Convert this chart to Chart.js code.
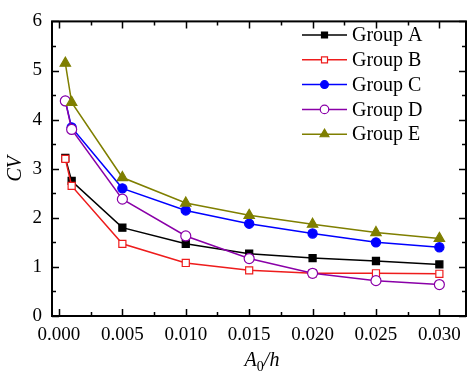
<!DOCTYPE html>
<html>
<head>
<meta charset="utf-8">
<script src="https://cdn.jsdelivr.net/npm/chart.js@4"></script>
<style>
  html, body { margin: 0; padding: 0; background: #fff; }
  #wrap { width: 474px; height: 376px; }
</style>
</head>
<body>
<div id="wrap"><canvas id="cvChart" width="474" height="376"></canvas></div>
<script>
// x positions (A0/h) and CV values
const ratios = [0.0005, 0.001, 0.005, 0.010, 0.015, 0.020, 0.025, 0.030];
const groupA = [3.22, 2.75, 1.80, 1.47, 1.27, 1.18, 1.12, 1.05];
const groupB = [3.20, 2.65, 1.47, 1.08, 0.93, 0.87, 0.87, 0.86];
const groupC = [4.38, 3.84, 2.60, 2.15, 1.88, 1.68, 1.50, 1.40];
const groupD = [4.38, 3.80, 2.38, 1.63, 1.17, 0.87, 0.72, 0.64];
const groupE = [5.15, 4.35, 2.82, 2.30, 2.05, 1.87, 1.70, 1.58];
const groupNames = ["Group A", "Group B", "Group C", "Group D", "Group E"];
const xTicks = [0.000, 0.005, 0.010, 0.015, 0.020, 0.025, 0.030];
const yTicks = [0, 1, 2, 3, 4, 5, 6];

const serif = "'Liberation Serif', 'DejaVu Serif', serif";

function pts(vals) {
  return vals.map((v, i) => ({ x: ratios[i], y: v }));
}

function makeSet(label, vals, color, style, filled, radius, order) {
  return {
    label: label,
    data: pts(vals),
    order: order, // later groups drawn on top
    borderColor: color,
    backgroundColor: filled ? color : "#ffffff",
    pointBorderColor: color,
    pointBackgroundColor: filled ? color : "#ffffff",
    pointStyle: style,
    pointRadius: radius,
    pointBorderWidth: 1.2,
    borderWidth: 1.5,
    tension: 0,
    fill: false
  };
}

// inside ticks on all four sides, legend with line + marker, axis titles
const frame = {
  id: "frame",
  afterDraw(chart) {
    const ctx = chart.ctx;
    const a = chart.chartArea;
    const xs = chart.scales.x, ys = chart.scales.y;
    ctx.save();
    ctx.strokeStyle = "#000";
    ctx.lineWidth = 2;
    ctx.strokeRect(a.left, a.top, a.right - a.left, a.bottom - a.top);

    ctx.lineWidth = 1.5;
    ctx.beginPath();
    for (let v = 0; v <= 0.0301; v += 0.0025) {
      const major = Math.abs(v / 0.005 - Math.round(v / 0.005)) < 1e-6;
      const len = major ? 7 : 4;
      const px = Math.round(xs.getPixelForValue(v)) + 0.5;
      ctx.moveTo(px, a.bottom); ctx.lineTo(px, a.bottom - len);
      ctx.moveTo(px, a.top); ctx.lineTo(px, a.top + len);
    }
    for (let v = 0; v <= 6.01; v += 0.5) {
      const major = Math.abs(v - Math.round(v)) < 1e-6;
      const len = major ? 7 : 4;
      const py = Math.round(ys.getPixelForValue(v)) + 0.5;
      ctx.moveTo(a.left, py); ctx.lineTo(a.left + len, py);
      ctx.moveTo(a.right, py); ctx.lineTo(a.right - len, py);
    }
    ctx.stroke();

    // legend
    ctx.font = "20px " + serif;
    ctx.textBaseline = "middle";
    chart.data.datasets.forEach((ds, i) => {
      const y = 35 + i * 24.8;
      const x0 = 302, x1 = 347;
      ctx.strokeStyle = ds.borderColor;
      ctx.lineWidth = ds.borderWidth;
      ctx.beginPath();
      ctx.moveTo(x0, y); ctx.lineTo(x1, y);
      ctx.stroke();
      ctx.fillStyle = ds.pointBackgroundColor;
      ctx.strokeStyle = ds.pointBorderColor;
      ctx.lineWidth = 1.2;
      Chart.helpers.drawPoint(ctx, {
        pointStyle: ds.pointStyle,
        radius: ds.pointRadius * 0.85,
        rotation: 0,
        borderWidth: 1.2
      }, (x0 + x1) / 2, y);
      ctx.fillStyle = "#000";
      ctx.textAlign = "left";
      ctx.fillText(ds.label, 352, y + 1);
    });

    // x title: A0/h with subscript
    ctx.fillStyle = "#000";
    ctx.textAlign = "left";
    ctx.textBaseline = "alphabetic";
    const cx = (a.left + a.right) / 2 + 3;
    const by = 366;
    ctx.font = "italic 20px " + serif;
    const wA = ctx.measureText("A").width;
    ctx.font = "14px " + serif;
    const w0 = ctx.measureText("0").width;
    ctx.font = "italic 20px " + serif;
    const wh = ctx.measureText("/h").width;
    let sx = cx - (wA + w0 + wh) / 2;
    ctx.fillText("A", sx, by);
    ctx.font = "14px " + serif;
    ctx.fillText("0", sx + wA, by + 5);
    ctx.font = "italic 20px " + serif;
    ctx.fillText("/h", sx + wA + w0, by);

    // y title
    ctx.translate(16, (a.top + a.bottom) / 2);
    ctx.rotate(-Math.PI / 2);
    ctx.textAlign = "center";
    ctx.textBaseline = "middle";
    ctx.font = "italic 20px " + serif;
    ctx.fillText("CV", 0, 0);
    ctx.restore();
  }
};

new Chart(document.getElementById("cvChart"), {
  type: "line",
  data: {
    datasets: [
      makeSet(groupNames[0], groupA, "#000000", "rect", true, 5, 5),
      makeSet(groupNames[1], groupB, "#ee1c1c", "rect", false, 5, 4),
      makeSet(groupNames[2], groupC, "#0000ff", "circle", true, 4.6, 3),
      makeSet(groupNames[3], groupD, "#8a00a8", "circle", false, 5, 2),
      makeSet(groupNames[4], groupE, "#7f7f00", "triangle", true, 6, 1)
    ]
  },
  options: {
    responsive: false,
    animation: false,
    layout: { padding: { top: 11, right: 8, left: 0, bottom: 0 } },
    plugins: { legend: { display: false }, tooltip: { enabled: false } },
    scales: {
      x: {
        type: "linear",
        min: -0.00055,
        max: 0.0321,
        afterBuildTicks(scale) { scale.ticks = xTicks.map(v => ({ value: v })); },
        afterFit(scale) { scale.height = 60; },
        grid: { display: false, drawTicks: false },
        border: { display: false },
        ticks: {
          color: "#000",
          font: { family: serif, size: 19 },
          padding: 8,
          maxRotation: 0,
          callback: v => v.toFixed(3)
        }
      },
      y: {
        min: 0,
        max: 6,
        afterBuildTicks(scale) { scale.ticks = yTicks.map(v => ({ value: v })); },
        afterFit(scale) { scale.width = 52; },
        grid: { display: false, drawTicks: false },
        border: { display: false },
        ticks: {
          color: "#000",
          font: { family: serif, size: 19 },
          padding: 10
        }
      }
    }
  },
  plugins: [frame]
});
</script>
</body>
</html>
